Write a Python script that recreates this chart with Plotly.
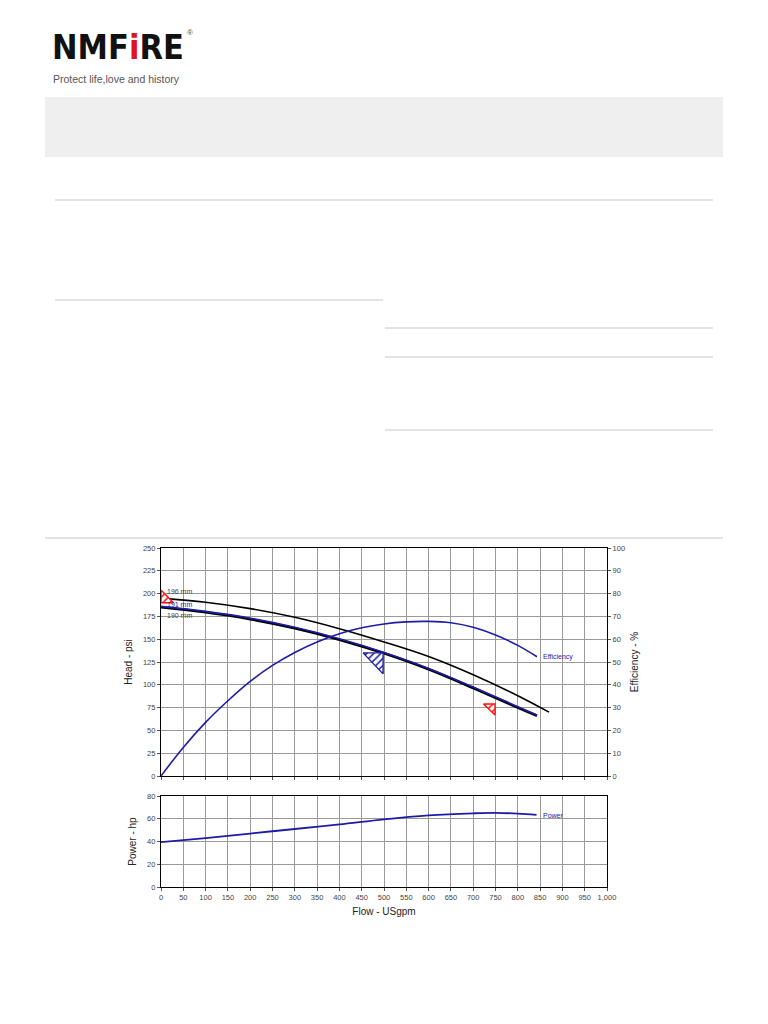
import plotly.graph_objects as go

# ---- data ----
flow_196 = [0, 100, 200, 300, 400, 500, 600, 700, 800, 870]
head_196 = [195, 190.5, 183.5, 174, 161.5, 147, 131, 111, 88, 70]

flow_190 = [0, 100, 200, 300, 400, 500, 600, 700, 800, 843]
head_190 = [185, 179.5, 172, 162, 149.5, 134.5, 117, 96.5, 75, 66]
head_191 = [186, 180.5, 173, 163, 150.5, 135.5, 118, 97.5, 76, 67]

flow_eff = [0, 50, 100, 150, 200, 250, 300, 350, 400, 450, 500, 550, 600, 650, 700, 750, 800, 843]
efficiency = [0, 12.5, 23.5, 33, 41.5, 48.5, 54.2, 58.8, 62.4, 65, 66.7, 67.6, 67.8, 67.2, 65.2, 61.8, 57.3, 52.3]

flow_pow = [0, 100, 200, 300, 400, 500, 600, 700, 750, 800, 842]
power = [39.5, 43, 47, 51, 55, 59.5, 63, 64.8, 65.2, 64.5, 63.4]

# operating-point triangles (flow, head)
tri_red_a_flow = [0, 28, 0, 0]
tri_red_a_head = [204, 190, 190, 204]
tri_blue_flow = [453, 498, 498, 453]
tri_blue_head = [135, 135, 112, 135]
tri_red_b_flow = [723, 749, 749, 723]
tri_red_b_head = [79, 79, 67, 79]

flow_ticks = list(range(0, 1001, 50))

BLUE = "#1c1ca8"
RED = "#ff1010"
GRID = "#9a9a9a"
FONT = "Liberation Sans, Arial, sans-serif"

# page body keeps its 8px margin; figure sized to fit inside the window
W, H = 752, 1000


def px(x):
    return (x - 8) / W


def py(y):
    return 1 - (y - 8) / H


fig = go.Figure()

fig.add_trace(go.Scatter(x=flow_196, y=head_196, mode="lines", line=dict(color="black", width=1.6, shape="spline"),
                         xaxis="x", yaxis="y"))
fig.add_trace(go.Scatter(x=flow_190, y=head_190, mode="lines", line=dict(color="black", width=2.6, shape="spline"),
                         xaxis="x", yaxis="y"))
fig.add_trace(go.Scatter(x=flow_190, y=head_191, mode="lines", line=dict(color=BLUE, width=1.6, shape="spline"),
                         xaxis="x", yaxis="y"))
fig.add_trace(go.Scatter(x=flow_eff, y=efficiency, mode="lines", line=dict(color=BLUE, width=1.6, shape="spline"),
                         xaxis="x", yaxis="y3"))

for fx, fy, col in [(tri_red_a_flow, tri_red_a_head, RED),
                    (tri_blue_flow, tri_blue_head, BLUE),
                    (tri_red_b_flow, tri_red_b_head, RED)]:
    fig.add_trace(go.Scatter(x=fx, y=fy, mode="lines", fill="toself", fillcolor=col,
                             fillpattern=dict(shape="/", fgcolor=col, bgcolor="white", size=5, solidity=0.3,
                                              fillmode="replace"),
                             line=dict(color=col, width=1.4), xaxis="x", yaxis="y", cliponaxis=False))

fig.add_trace(go.Scatter(x=flow_pow, y=power, mode="lines", line=dict(color=BLUE, width=1.8, shape="spline"),
                         xaxis="x2", yaxis="y2"))

axis_common = dict(showgrid=True, gridcolor=GRID, gridwidth=1, showline=True, linecolor="black", linewidth=1.2,
                   mirror=True, ticks="outside", ticklen=3, tickcolor="#555", zeroline=False, automargin=False,
                   tickfont=dict(size=7.5, color="#444", family=FONT))

fig.update_layout(
    width=W, height=H, margin=dict(l=0, r=0, t=0, b=0, pad=0, autoexpand=False),
    paper_bgcolor="white", plot_bgcolor="white", showlegend=False,
    font=dict(family=FONT),
    xaxis=dict(axis_common, domain=[px(161), px(607)], range=[0, 1000], tickvals=flow_ticks, showticklabels=False,
               anchor="y"),
    yaxis=dict(axis_common, domain=[py(776), py(548)], range=[0, 250], dtick=25, anchor="x",
               title=dict(text="Head - psi", font=dict(size=10, color="#222"), standoff=8)),
    yaxis3=dict(axis_common, overlaying="y", side="right", range=[0, 100], dtick=10, showgrid=False, anchor="x",
                title=dict(text="Efficiency - %", font=dict(size=10, color="#222"), standoff=6)),
    xaxis2=dict(axis_common, domain=[px(161), px(607)], range=[0, 1000], tickvals=flow_ticks, tickformat=",",
                anchor="y2", title=dict(text="Flow - USgpm", font=dict(size=10, color="#222"), standoff=6)),
    yaxis2=dict(axis_common, domain=[py(887), py(796)], range=[0, 80], dtick=20, anchor="x2",
                title=dict(text="Power - hp", font=dict(size=10, color="#222"), standoff=8)),
)

# curve labels
fig.add_annotation(x=8, y=196, xref="x", yref="y", text="196 mm", showarrow=False, xanchor="left", yanchor="bottom",
                   font=dict(size=7, color="#444"))
fig.add_annotation(x=8, y=194, xref="x", yref="y", text="191 mm", showarrow=False, xanchor="left", yanchor="top",
                   font=dict(size=7, color=BLUE))
fig.add_annotation(x=8, y=182, xref="x", yref="y", text="190 mm", showarrow=False, xanchor="left", yanchor="top",
                   font=dict(size=7, color="#444"))
fig.add_annotation(x=852, y=52, xref="x", yref="y3", text="Efficiency", showarrow=False, xanchor="left",
                   font=dict(size=7, color=BLUE))
fig.add_annotation(x=852, y=63, xref="x2", yref="y2", text="Power", showarrow=False, xanchor="left",
                   font=dict(size=7, color=BLUE))

# page furniture: logo, header band and rules
fig.add_annotation(x=px(50), y=py(25), xref="paper", yref="paper", xanchor="left", yanchor="top",
                   text="<b>NMF<span style='color:#e0141e'>i</span>RE</b>", showarrow=False,
                   font=dict(size=34, color="#111", family="DejaVu Sans Condensed, sans-serif"))
fig.add_annotation(x=px(185), y=py(26), xref="paper", yref="paper", xanchor="left", yanchor="top",
                   text="®", showarrow=False, font=dict(size=8, color="#555"))
fig.add_annotation(x=px(51), y=py(79), xref="paper", yref="paper", xanchor="left", yanchor="middle",
                   text="Protect life,love and history", showarrow=False, font=dict(size=10.5, color="#555"))

fig.add_shape(type="rect", xref="paper", yref="paper", x0=px(45), x1=px(723), y0=py(157), y1=py(97),
              fillcolor="#efefef", line=dict(width=0), layer="below")
rules = [(55, 713, 200), (55, 383, 300), (385, 713, 328), (385, 713, 357), (385, 713, 430), (45, 723, 538)]
for x0, x1, yy in rules:
    fig.add_shape(type="line", xref="paper", yref="paper", x0=px(x0), x1=px(x1), y0=py(yy), y1=py(yy),
                  line=dict(color="#c8c8c8", width=1))

fig.write_html("out.html")
